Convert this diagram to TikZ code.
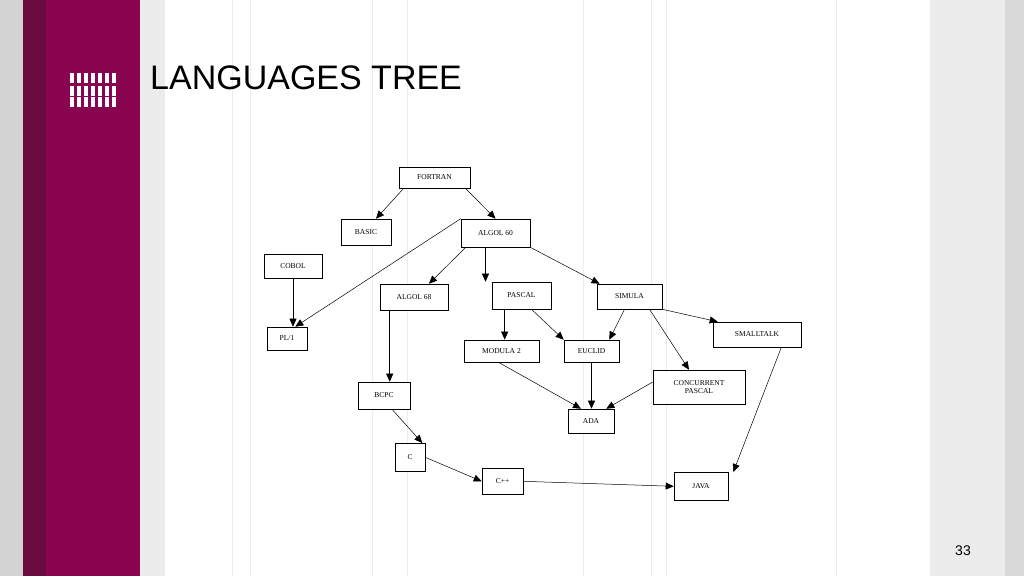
\documentclass[tikz,border=0pt]{standalone}
\usepackage{fontspec}
\setmainfont{Liberation Serif}
\newfontfamily\titlefont{Liberation Sans}
\usetikzlibrary{arrows.meta}
\definecolor{barmagenta}{HTML}{8A0550}
\definecolor{bardark}{HTML}{6A0A3E}
\tikzset{
  lang/.style={draw, line width=0.6pt, fill=white, inner sep=0pt, font=\fontsize{7.5}{8.5}\selectfont},
  edge/.style={line width=0.5pt, -{Triangle[length=8pt,width=7pt]}}
}
\begin{document}
\begin{tikzpicture}[x=1pt,y=-1pt]
  \useasboundingbox (0,0) rectangle (1024,576);
  % background bands
  \fill[gray!35] (0,0) rectangle (23,576);
  \fill[bardark] (23,0) rectangle (46,576);
  \fill[barmagenta] (46,0) rectangle (140,576);
  \fill[gray!15] (140,0) rectangle (165,576);
  \fill[gray!15] (930,0) rectangle (1005,576);
  \fill[gray!30] (1005,0) rectangle (1024,576);
  \foreach \x in {232,250,372,407,583,651,666,836}
    \draw[gray!15, line width=1pt] (\x,0) -- (\x,576);
  % logo
  \foreach \x in {70,77,84,91,98,105,112}
    \foreach \y in {73,86,97}
      \fill[white] (\x,\y) rectangle (\x+4,\y+10);
  % title and page number
  \node[anchor=base west, font=\titlefont\fontsize{34}{36}\selectfont, inner sep=0pt] (title) at (150,89) {LANGUAGES TREE};
  \node[anchor=base east, font=\titlefont\fontsize{14}{16}\selectfont, inner sep=0pt] (page) at (971,555) {33};

  % languages
  \node[lang, minimum width=71pt, minimum height=21pt] (fortran) at (434.5,177.5) {FORTRAN};
  \node[lang, minimum width=50pt, minimum height=26pt] (basic) at (366,232) {BASIC};
  \node[lang, minimum width=69pt, minimum height=28pt] (algol60) at (495.5,233) {ALGOL 60};
  \node[lang, minimum width=58pt, minimum height=24pt] (cobol) at (293,266) {COBOL};
  \node[lang, minimum width=40pt, minimum height=23pt] (pl1) at (287,338.5) {PL/1};
  \node[lang, minimum width=68pt, minimum height=26pt] (algol68) at (414,297) {ALGOL 68};
  \node[lang, minimum width=59pt, minimum height=27pt] (pascal) at (521.5,295.5) {PASCAL};
  \node[lang, minimum width=65pt, minimum height=25pt] (simula) at (629.5,296.5) {SIMULA};
  \node[lang, minimum width=88pt, minimum height=25pt] (smalltalk) at (757,334.5) {SMALLTALK};
  \node[lang, minimum width=75pt, minimum height=22pt] (modula) at (501.5,351) {MODULA 2};
  \node[lang, minimum width=55pt, minimum height=22pt] (euclid) at (591.5,351) {EUCLID};
  \node[lang, minimum width=92pt, minimum height=34pt, align=center] (concurrent) at (699,387) {CONCURRENT\\PASCAL};
  \node[lang, minimum width=52pt, minimum height=27pt] (bcpc) at (384,395.5) {BCPC};
  \node[lang, minimum width=46pt, minimum height=24pt] (ada) at (591,421) {ADA};
  \node[lang, minimum width=30pt, minimum height=28pt, anchor=north] (c) at (410,443) {C};
  \node[lang, minimum width=41pt, minimum height=26pt, anchor=north] (cpp) at (502.5,468) {C++};
  \node[lang, minimum width=54pt, minimum height=28pt, anchor=north] (java) at (701,472) {JAVA};

  % derivations
  \draw[edge] (fortran.south west) ++(5,0) -- ([xshift=10pt]basic.north);
  \draw[edge] (fortran.south east) ++(-5,0) -- (algol60.north);
  \draw[edge] (algol60.north west) -- ([xshift=-12pt]pl1.north east);
  \draw[edge] (cobol) -- (cobol |- pl1.north);
  \draw[edge] (algol60.south west) ++(5,0) -- ([xshift=15pt]algol68.north);
  \draw[edge] (algol60.south) ++(-10,0) coordinate (p) -- (p |- pascal.north);
  \draw[edge] (algol60.south east) -- ([xshift=-30pt]simula.north);
  \draw[edge] (algol68.south west) ++(10,0) coordinate (q) -- (q |- bcpc.north);
  \draw[edge] (pascal.south west) ++(13,0) coordinate (r) -- (r |- modula.north);
  \draw[edge] (pascal.south) ++(10,0) -- (euclid.north west);
  \draw[edge] (simula.south) ++(-5,0) -- ([xshift=-10pt]euclid.north east);
  \draw[edge] (simula.south east) -- ([xshift=5pt]smalltalk.north west);
  \draw[edge] (simula.south) ++(20,0) -- ([xshift=-10pt]concurrent.north);
  \draw[edge] (modula.south) ++(-3,0) -- ([xshift=-10pt]ada.north);
  \draw[edge] (euclid.south) -- (euclid.south |- ada.north);
  \draw[edge] (concurrent.west) ++(0,-5) -- ([xshift=-8pt]ada.north east);
  \draw[edge] ([xshift=-20pt]smalltalk.south east) -- ([xshift=5pt]java.north east);
  \draw[edge] ([xshift=8pt]bcpc.south) -- ([xshift=-3pt]c.north east);
  \draw[edge] (c.east) -- (cpp.west);
  \draw[edge] (cpp.east) -- (java.west);
\end{tikzpicture}
\end{document}
